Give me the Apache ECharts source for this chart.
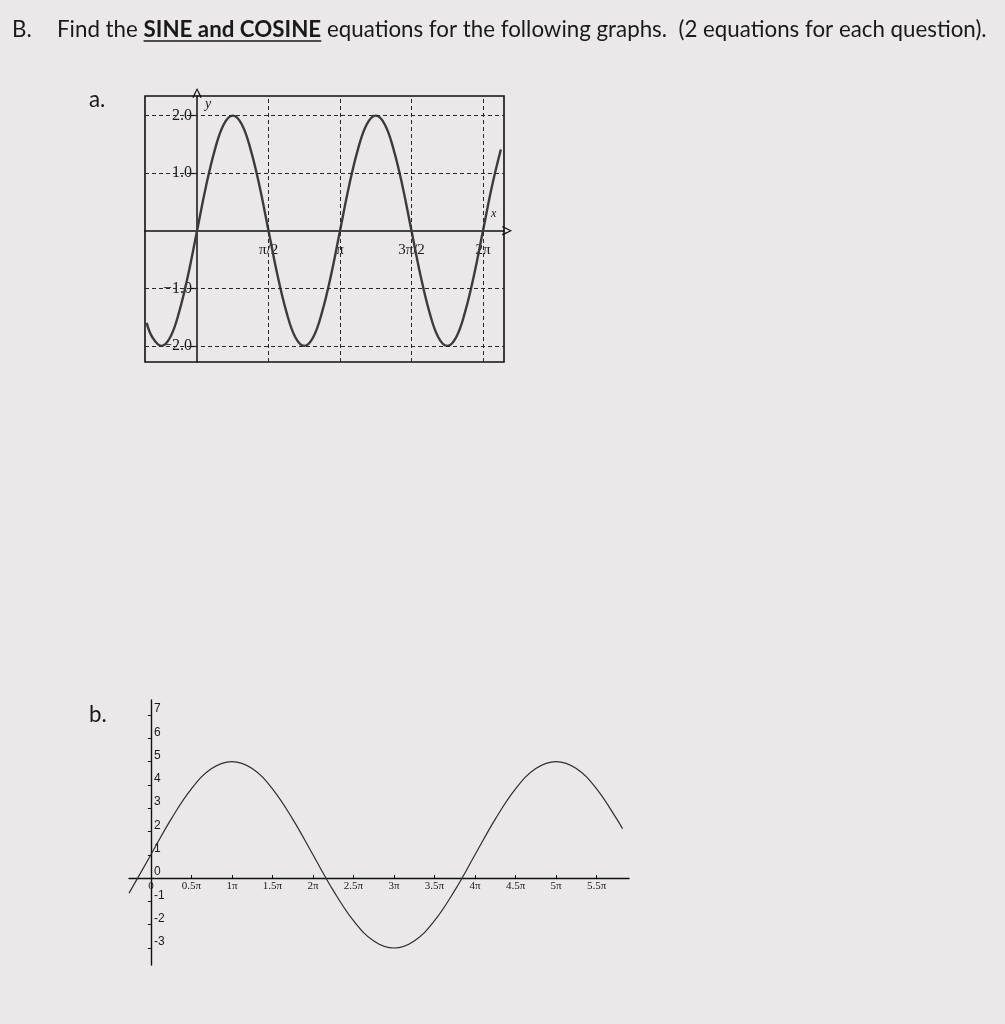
<!DOCTYPE html>
<html><head><meta charset="utf-8">
<script src="https://cdn.jsdelivr.net/npm/echarts@6/dist/echarts.min.js"></script>
<style>html,body{margin:0;padding:0;background:#eae8e9}#c{width:1005px;height:1024px}</style>
</head><body><div id="c"></div>
<script>
// ---- text ----
const titleLead = 'B.';
const titlePre = 'Find the ';
const titleBold = 'SINE and COSINE';
const titlePost = ' equations for the following graphs.  (2 equations for each question).';
const partLabels = ['a.', 'b.'];

// ---- graph a (x in units of π) ----
const aX = [-0.352, -0.3125, -0.25, -0.1875, -0.125, -0.0625, 0, 0.0625, 0.125, 0.1875, 0.25, 0.3125, 0.375, 0.4375,
  0.5, 0.5625, 0.625, 0.6875, 0.75, 0.8125, 0.875, 0.9375, 1, 1.0625, 1.125, 1.1875, 1.25, 1.3125, 1.375, 1.4375,
  1.5, 1.5625, 1.625, 1.6875, 1.75, 1.8125, 1.875, 1.9375, 2, 2.0625, 2.125];
const aY = [-1.60, -1.85, -2, -1.85, -1.41, -0.77, 0, 0.77, 1.41, 1.85, 2, 1.85, 1.41, 0.77,
  0, -0.77, -1.41, -1.85, -2, -1.85, -1.41, -0.77, 0, 0.77, 1.41, 1.85, 2, 1.85, 1.41, 0.77,
  0, -0.77, -1.41, -1.85, -2, -1.85, -1.41, -0.77, 0, 0.77, 1.41];
const aGridX = [0.5, 1, 1.5, 2];
const aXTickLabels = ['π/2', 'π', '3π/2', '2π'];
const aGridY = [-2, -1, 1, 2];
const aYTickLabels = ['−2.0', '−1.0', '1.0', '2.0'];

// ---- graph b (x in units of π) ----
const bX = [-0.27, -0.25, 0, 0.25, 0.5, 0.75, 1, 1.25, 1.5, 1.75, 2, 2.25, 2.5, 2.75, 3, 3.25, 3.5, 3.75,
  4, 4.25, 4.5, 4.75, 5, 5.25, 5.5, 5.75, 5.82];
const bY = [-0.65, -0.53, 1, 2.53, 3.83, 4.70, 5, 4.70, 3.83, 2.53, 1, -0.53, -1.83, -2.70, -3, -2.70, -1.83, -0.53,
  1, 2.53, 3.83, 4.70, 5, 4.70, 3.83, 2.53, 2.12];
const bXTicks = [0, 0.5, 1, 1.5, 2, 2.5, 3, 3.5, 4, 4.5, 5, 5.5];
const bXTickLabels = ['0', '0.5π', '1π', '1.5π', '2π', '2.5π', '3π', '3.5π', '4π', '4.5π', '5π', '5.5π'];
const bYTicks = [-3, -2, -1, 0, 1, 2, 3, 4, 5, 6, 7];
const bYTickLabels = ['-3', '-2', '-1', '0', '1', '2', '3', '4', '5', '6', '7'];

// axis ranges
const aXRange = [-0.364, 2.147], aYRange = [-2.28, 2.34];
const bXRange = [-0.27, 5.9], bYRange = [-3.73, 7.64];
// grid boxes
const gA = {left: 145, top: 96, width: 359, height: 266};
const gB = {left: 129, top: 700, width: 500, height: 265};
// offsets that bring each axis onto the other axis' zero
const zeroFrac = r => (0 - r[0]) / (r[1] - r[0]);
const aXOff = -gA.height * zeroFrac(aYRange);
const aYOff = -gA.width * zeroFrac(aXRange);
const bXOff = -gB.height * zeroFrac(bYRange);
const bYOff = -gB.width * zeroFrac(bXRange);

// ---- build ----
const chart = echarts.init(document.getElementById('c'), null, {renderer: 'canvas'});
const FONT = 'Lato';
const ctx = document.createElement('canvas').getContext('2d');
ctx.font = '20px ' + FONT; const w0 = ctx.measureText(titlePre).width; const w2 = ctx.measureText(titlePost).width;
ctx.font = 'bold 20px ' + FONT; const w1 = ctx.measureText(titleBold).width;
const fs = 20 * 930 / (w0 + w1 + w2);
const k = fs / 20;
const tx0 = 57, tx1 = tx0 + w0 * k, tx2 = tx1 + w1 * k;
const chevron = 'path://M0,10 L5,0 L10,10 L8.6,10.7 L5,2.4 L1.4,10.7 Z';

const aData = aX.map((x, i) => [x, aY[i]]);
const bData = bX.map((x, i) => [x, bY[i]]);
const dash = {color: '#2a2a2a', width: 1, type: [4, 3]};

chart.setOption({
  backgroundColor: '#eae8e9',
  animation: false,
  grid: [
    Object.assign({show: true, borderColor: '#111', borderWidth: 1.6, backgroundColor: 'transparent', containLabel: false, outerBoundsMode: 'none'}, gA),
    Object.assign({show: false, containLabel: false, outerBoundsMode: 'none'}, gB)
  ],
  xAxis: [
    {type: 'value', gridIndex: 0, min: aXRange[0], max: aXRange[1], position: 'bottom', offset: aXOff,
     axisLine: {onZero: false, lineStyle: {color: '#111', width: 1.5}, symbol: ['none', chevron], symbolSize: [13, 10], symbolOffset: [0, 3]},
     axisTick: {show: false}, splitLine: {show: false},
     axisLabel: {customValues: aGridX, formatter: v => aXTickLabels[aGridX.indexOf(v)] || '', margin: 12,
       fontFamily: 'Liberation Serif', fontSize: 15, color: '#1a1a1a'}},
    {type: 'value', gridIndex: 1, min: bXRange[0], max: bXRange[1], position: 'bottom', offset: bXOff,
     axisLine: {onZero: false, lineStyle: {color: '#111', width: 1.4}},
     axisTick: {show: true, inside: true, length: 3, customValues: bXTicks, lineStyle: {color: '#111'}},
     splitLine: {show: false},
     axisLabel: {customValues: bXTicks, formatter: v => bXTickLabels[bXTicks.indexOf(v)] || '', margin: 3,
       fontFamily: 'Liberation Serif', fontSize: 11, color: '#1a1a1a'}}
  ],
  yAxis: [
    {type: 'value', gridIndex: 0, min: aYRange[0], max: aYRange[1], position: 'left', offset: aYOff,
     axisLine: {onZero: false, lineStyle: {color: '#111', width: 1.5}, symbol: ['none', chevron], symbolSize: [13, 10], symbolOffset: [0, 3]},
     axisTick: {show: true, length: 6, customValues: aGridY, lineStyle: {color: '#111', width: 1.2}}, splitLine: {show: false},
     axisLabel: {customValues: aGridY, formatter: v => aYTickLabels[aGridY.indexOf(v)] || '', margin: 5,
       fontFamily: 'Liberation Serif', fontSize: 16, color: '#1a1a1a'}},
    {type: 'value', gridIndex: 1, min: bYRange[0], max: bYRange[1], position: 'left', offset: bYOff,
     axisLine: {onZero: false, lineStyle: {color: '#111', width: 1.4}},
     axisTick: {show: true, length: 3, customValues: bYTicks, lineStyle: {color: '#111'}},
     splitLine: {show: false},
     axisLabel: {inside: true, customValues: bYTicks, formatter: v => bYTickLabels[bYTicks.indexOf(v)] || '', margin: 3,
       fontFamily: 'Liberation Sans', fontSize: 12, color: '#1a1a1a', verticalAlign: 'bottom'}}
  ],
  series: [
    {type: 'line', xAxisIndex: 0, yAxisIndex: 0, data: aData, smooth: 0.4, showSymbol: false, silent: true,
     lineStyle: {color: '#3c3c3c', width: 2.4}, z: 3,
     markLine: {silent: true, symbol: 'none', label: {show: false}, lineStyle: dash, animation: false,
       data: aGridX.map(v => ({xAxis: v})).concat(aGridY.map(v => ({yAxis: v})))}},
    {type: 'line', xAxisIndex: 1, yAxisIndex: 1, data: bData, smooth: 0.4, showSymbol: false, silent: true,
     lineStyle: {color: '#2e2e2e', width: 1.2}, z: 3}
  ],
  graphic: [
    {type: 'text', left: 12, top: 19, style: {text: titleLead, font: fs + 'px ' + FONT, fill: '#1a1a1a'}},
    {type: 'text', x: tx0, y: 19, style: {text: titlePre, font: fs + 'px ' + FONT, fill: '#1a1a1a', textVerticalAlign: 'top'}},
    {type: 'text', x: tx1, y: 19, style: {text: titleBold, font: 'bold ' + fs + 'px ' + FONT, fill: '#1a1a1a', textVerticalAlign: 'top'}},
    {type: 'text', x: tx2, y: 19, style: {text: titlePost, font: fs + 'px ' + FONT, fill: '#1a1a1a', textVerticalAlign: 'top'}},
    {type: 'line', shape: {x1: tx1, y1: 41, x2: tx2, y2: 41}, style: {stroke: '#1a1a1a', lineWidth: 1.6}},
    {type: 'text', left: 89, top: 89, style: {text: partLabels[0], font: fs + 'px ' + FONT, fill: '#1a1a1a'}},
    {type: 'text', left: 89, top: 704, style: {text: partLabels[1], font: fs + 'px ' + FONT, fill: '#1a1a1a'}}
  ]
});

// axis name letters placed relative to the axes
const pX = chart.convertToPixel({gridIndex: 0}, [aXRange[1], 0]);
const pY = chart.convertToPixel({gridIndex: 0}, [0, aYRange[1]]);
chart.setOption({graphic: [
  {type: 'text', id: 'xn', x: pX[0] - 13, y: pX[1] - 23, style: {text: 'x', font: 'italic 12px Liberation Serif', fill: '#1a1a1a'}},
  {type: 'text', id: 'yn', x: pY[0] + 8, y: pY[1] + 1, style: {text: 'y', font: 'italic 14px Liberation Serif', fill: '#1a1a1a'}}
]});
</script></body></html>
